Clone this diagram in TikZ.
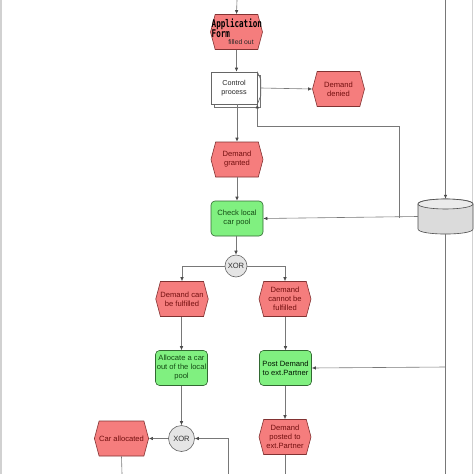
\documentclass[tikz,border=0pt]{standalone}
\usepackage{fontspec}
\setmainfont{Liberation Sans}
\newfontfamily\apfont{DejaVu Sans Mono}
\usetikzlibrary{arrows.meta,shapes.symbols}
\definecolor{evfill}{RGB}{245,125,125}
\definecolor{evdraw}{RGB}{130,50,50}
\definecolor{evtext}{RGB}{115,15,15}
\definecolor{fnfill}{RGB}{128,240,128}
\definecolor{fndraw}{RGB}{50,105,50}
\definecolor{fntext}{RGB}{20,75,20}
\definecolor{lncol}{RGB}{120,120,120}
\definecolor{tipcol}{RGB}{75,75,75}
\begin{document}
\begin{tikzpicture}[x=1pt,y=-1pt,
  txt/.style={font=\fontsize{7.6}{9}\selectfont, align=center},
  evt/.style={txt, signal, signal to=east and west, signal pointer angle=150,
    draw=evdraw, fill=evfill, text=evtext, minimum width=52pt, minimum height=35pt,
    inner sep=0pt, line width=0.6pt},
  fn/.style={txt, rectangle, rounded corners=4pt, draw=fndraw, fill=fnfill, text=fntext,
    minimum width=52pt, minimum height=35pt, inner sep=0pt, line width=0.6pt},
  xorgate/.style={txt, circle, draw=black!60, fill=black!10, text=black!80, inner sep=0pt, line width=0.6pt},
  conn/.style={draw=lncol, line width=0.6pt, -{Latex[length=4pt,width=3.5pt,color=tipcol]}},
  plainline/.style={draw=lncol, line width=0.6pt},
  edge/.style={draw=black!18, line width=1.2pt},
  aptext/.style={anchor=west, inner sep=0pt, text=black, font=\apfont\bfseries\fontsize{7.6}{8}\selectfont}
]
\useasboundingbox (0,0) rectangle (474,474);
\clip (0,0) rectangle (474,474);
\fill[white] (0,0) rectangle (474,474);

% page edge lines
\draw[edge] (1,0) -- (1,474);
\draw[edge] (472.5,0) -- (472.5,474);

% coordinates for free ends
\coordinate (t1) at (237,0);
\coordinate (t2) at (445.5,0);
\coordinate (j1) at (399,218);
\coordinate (j2) at (399,126);
\coordinate (j3) at (445.5,367);
\coordinate (b1) at (122,474);
\coordinate (b2) at (228,474);
\coordinate (b3) at (285,474);
\coordinate (b4) at (445.5,474);

% data store (cylinder)
\path[fill=black!14, draw=black!70, line width=0.6pt]
  (418,204) -- (418,229) .. controls (418,235.7) and (473,235.7) .. (473,229)
  -- (473,204) .. controls (473,197.3) and (418,197.3) .. (418,204) -- cycle;
\draw[fill=black!8, draw=black!70, line width=0.6pt] (445.5,204) ellipse [x radius=27.5, y radius=5];
\node[minimum width=55pt, minimum height=35pt, inner sep=0pt] (db) at (445.5,216.5) {};

% nodes
\node[evt] (app) at (236.5,32) {};
\node[aptext] (apptitle) at (211.5,24.5) {\scalebox{1}[1.4]{Application}};
\node[aptext] (appform) at (211.5,33.5) {\scalebox{1}[1.4]{Form}};
\node[txt, inner sep=0pt, text=black!85, font=\fontsize{6.8}{7}\selectfont] (appsub) at (241,42) {filled out};

\draw[black!55, fill=white, line width=0.6pt] (214.5,75) rectangle (260.5,107);
\node[txt, rectangle, draw=black!60, fill=white, text=black!85, minimum width=46pt, minimum height=32pt, inner sep=0pt, line width=0.6pt, font=\fontsize{7.2}{9}\selectfont] (ctrl) at (234,88) {Control\\process};
\draw[black!60, line width=0.6pt] (ctrl.north east) -- ++(3.5,8) -- ++(0,16) -- (ctrl.south east);
\coordinate (ctrlout) at (261,88);

\node[evt] (denied) at (338.5,89) {Demand\\denied};
\node[evt] (granted) at (237,159.5) {Demand\\granted};
\node[fn] (pool) at (237,218.5) {Check local\\car pool};
\node[xorgate, minimum size=22pt] (xor1) at (236,266) {XOR};
\node[evt] (can) at (182,299) {Demand can\\be fulfilled};
\node[evt] (cannot) at (285,299) {Demand\\cannot be\\fulfilled};
\node[fn] (alloc) at (181.5,368) {Allocate a car\\out of the local\\pool};
\node[fn, text=black!80!green!40!black] (post) at (285.5,368) {Post Demand\\to ext.Partner};
\node[xorgate, minimum size=26pt] (xor2) at (181.5,438.5) {XOR};
\node[evt, minimum width=51pt] (car) at (121.5,438.5) {Car allocated};
\node[evt] (posted) at (285,437) {Demand\\posted to\\ext.Partner};

% connectors
\draw[conn] (t1) -- (app.north);
\draw[conn] (app.south) -- (ctrl.north -| app.south);
\draw[conn] (ctrlout) -- (denied.west);
\draw[conn] (ctrl.south -| granted.north) -- (granted.north);
\draw[conn] (granted.south) -- (pool.north);
\draw[conn] (db.west) -- (pool.east);
\draw[conn] (j1) -- (j2) -| (ctrl.south east);
\draw[conn] (t2) -- (db.north);
\draw[plainline] (db.south) -- (b4);
\draw[conn] (j3) -- (post.east);
\draw[conn] (pool.south -| xor1.north) -- (xor1.north);
\draw[conn] (xor1.west) -| (can.north);
\draw[conn] (xor1.east) -| (cannot.north);
\draw[conn] (can.south -| alloc.north) -- (alloc.north);
\draw[conn] (cannot.south -| post.north) -- (post.north);
\draw[conn] (alloc.south) -- (xor2.north);
\draw[conn] (xor2.west) -- (car.east);
\draw[conn] (b2) |- (xor2.east);
\draw[conn] (post.south -| posted.north) -- (posted.north);
\draw[plainline] (posted.south) -- (b3);
\draw[plainline] (car.south) -- (b1);
\end{tikzpicture}
\end{document}
